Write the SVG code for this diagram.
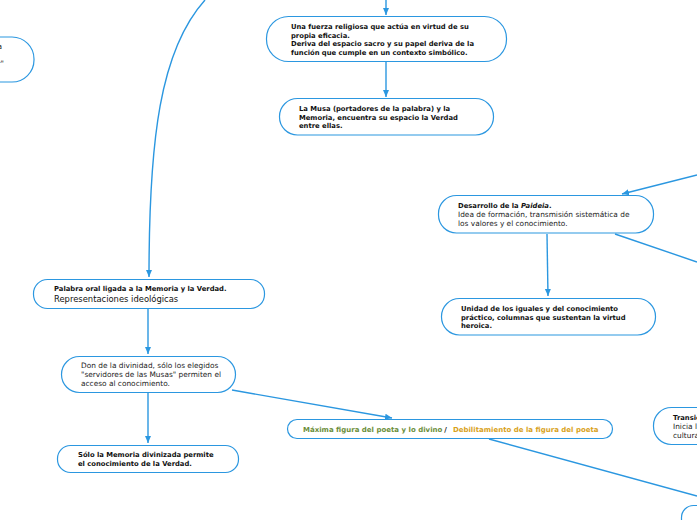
<svg xmlns="http://www.w3.org/2000/svg" width="697" height="520" viewBox="0 0 697 520">
<defs>
<marker id="ah" markerWidth="8" markerHeight="8" refX="7" refY="4" orient="auto" markerUnits="userSpaceOnUse">
<path d="M0,1 L7,4 L0,7 Z" fill="#2b97e0"/>
</marker>
<style>
.n{fill:#fff;stroke:#2b97e0;stroke-width:1.2}
.c{fill:none;stroke:#2b97e0;stroke-width:1.4}
text{font-family:"DejaVu Sans",Verdana,sans-serif;font-size:6.8px;fill:#111}
.r{font-size:7.4px;fill:#222}
.b{font-weight:bold}
.g{fill:#6b8e3a;font-weight:bold}
.y{fill:#d9a21b;font-weight:bold}
</style>
</defs>
<rect width="697" height="520" fill="#fff"/>
<g id="connectors">
<path class="c" d="M386,0 L386,15" marker-end="url(#ah)"/>
<path class="c" d="M386,62 L386,97" marker-end="url(#ah)"/>
<path class="c" d="M205,0 C160,50 149,140 149,277" marker-end="url(#ah)"/>
<path class="c" d="M148,309 L148,354" marker-end="url(#ah)"/>
<path class="c" d="M148,393 L148,443" marker-end="url(#ah)"/>
<path class="c" d="M232,390 L392,418" marker-end="url(#ah)"/>
<path class="c" d="M697,175 L622,194" marker-end="url(#ah)"/>
<path class="c" d="M615,234 L697,262"/>
<path class="c" d="M547,234 L548,296" marker-end="url(#ah)"/>
<path class="c" d="M489,439 L697,496"/>
</g>
<g id="node-left">
<rect class="n" x="-200" y="37" width="234" height="45" rx="22"/>
<text class="r" x="2" y="49" text-anchor="end">a</text>
<text class="r" x="4" y="66" text-anchor="end">r"</text>
</g>
<g id="node-fuerza">
<rect class="n" x="266.5" y="16.5" width="240" height="45" rx="22"/>
<text class="b" x="291" y="29">Una fuerza religiosa que actúa en virtud de su</text>
<text class="b" x="291" y="37.5">propia eficacia.</text>
<text class="b" x="291" y="46">Deriva del espacio sacro y su papel deriva de la</text>
<text class="b" x="291" y="54.5">función que cumple en un contexto simbólico.</text>
</g>
<g id="node-musa">
<rect class="n" x="279.5" y="98.5" width="214" height="36.5" rx="18"/>
<text class="b" x="299" y="111">La Musa (portadores de la palabra) y la</text>
<text class="b" x="299" y="119.5">Memoria, encuentra su espacio la Verdad</text>
<text class="b" x="299" y="128">entre ellas.</text>
</g>
<g id="node-paideia">
<rect class="n" x="438.5" y="195.5" width="215" height="37.5" rx="18"/>
<text x="458" y="207.5"><tspan class="b">Desarrollo de la </tspan><tspan class="b" font-style="italic">Paideia</tspan><tspan class="b">.</tspan></text>
<text class="r" x="458" y="216.5">Idea de formación, transmisión sistemática de</text>
<text class="r" x="458" y="225.5">los valores y el conocimiento.</text>
</g>
<g id="node-unidad">
<rect class="n" x="441.5" y="298.5" width="214" height="36.5" rx="18"/>
<text class="b" x="461" y="311">Unidad de los iguales y del conocimiento</text>
<text class="b" x="461" y="319.5">práctico, columnas que sustentan la virtud</text>
<text class="b" x="461" y="328">heroica.</text>
</g>
<g id="node-palabra">
<rect class="n" x="33.5" y="279.5" width="231" height="29" rx="14"/>
<text class="b" x="54" y="291">Palabra oral ligada a la Memoria y la Verdad.</text>
<text x="54" y="301.5" style="font-size:8.4px">Representaciones ideológicas</text>
</g>
<g id="node-don">
<rect class="n" x="61.5" y="356.5" width="174" height="36" rx="18"/>
<text class="r" x="81" y="368">Don de la divinidad, sólo los elegidos</text>
<text class="r" x="81" y="377">"servidores de las Musas" permiten el</text>
<text class="r" x="81" y="386">acceso al conocimiento.</text>
</g>
<g id="node-solo">
<rect class="n" x="57.5" y="445.5" width="181" height="27" rx="13"/>
<text class="b" x="78" y="457">Sólo la Memoria divinizada permite</text>
<text class="b" x="78" y="466">el conocimiento de la Verdad.</text>
</g>
<g id="node-maxima">
<rect class="n" x="287.5" y="419.5" width="325" height="19" rx="9.5"/>
<text x="303" y="431.5" style="font-size:7px"><tspan class="g">Máxima figura del poeta y lo divino</tspan><tspan class="b" dx="2">/</tspan><tspan class="y" dx="6">Debilitamiento de la figura del poeta</tspan></text>
</g>
<g id="node-trans">
<rect class="n" x="653.5" y="407.5" width="120" height="37" rx="18"/>
<text class="b" x="673" y="420">Transición</text>
<text class="r" x="673" y="429">Inicia la</text>
<text class="r" x="673" y="438">cultura</text>
</g>
<g id="node-bottom">
<rect class="n" x="681.5" y="505.5" width="100" height="40" rx="12"/>
</g>
</svg>
